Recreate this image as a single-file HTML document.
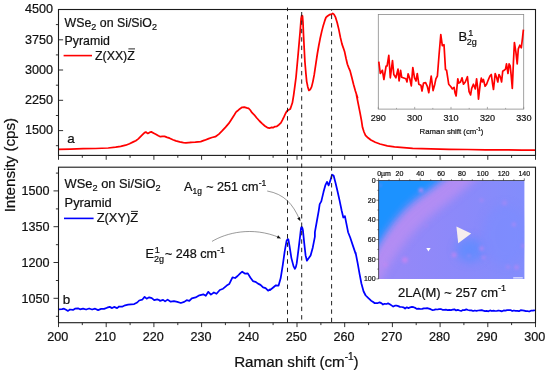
<!DOCTYPE html>
<html><head><meta charset="utf-8"><title>Raman spectra WSe2</title>
<style>
html,body{margin:0;padding:0;background:#fff;}
body{width:550px;height:374px;overflow:hidden;}
svg{display:block;font-family:"Liberation Sans",Arial,sans-serif;fill:#111;}
text{stroke:#111;stroke-width:0.22px;}
.ax{stroke:#1a1a1a;stroke-width:1.1;fill:none;}
.tk{stroke:#1a1a1a;stroke-width:0.9;fill:none;}
.dash{stroke:#222;stroke-width:1;fill:none;stroke-dasharray:4.4 4.02;}
.tl{font-size:12.6px;}
.lg{font-size:12.35px;}
.lgb{font-size:12.85px;}
.it{font-size:9.1px;fill:#222;}
.mt{font-size:7px;fill:#181818;}
</style></head><body>
<svg width="550" height="374" viewBox="0 0 550 374">
<defs>
<linearGradient id="base" gradientUnits="userSpaceOnUse" x1="400" y1="230" x2="525" y2="230">
<stop offset="0" stop-color="#9488f8"/>
<stop offset="0.5" stop-color="#8b89fa"/>
<stop offset="1" stop-color="#828dfc"/>
</linearGradient>
<filter id="b2" x="-20%" y="-20%" width="140%" height="140%"><feGaussianBlur stdDeviation="3.8"/></filter>
<filter id="b4" x="-30%" y="-30%" width="160%" height="160%"><feGaussianBlur stdDeviation="4.5"/></filter>
<filter id="b1" x="-50%" y="-50%" width="200%" height="200%"><feGaussianBlur stdDeviation="1.6"/></filter>
<filter id="b3" x="-50%" y="-50%" width="200%" height="200%"><feGaussianBlur stdDeviation="5"/></filter>
<clipPath id="mc"><rect x="378.6" y="180.5" width="145.8" height="98.4"/></clipPath>
<clipPath id="ca"><rect x="58.5" y="9.5" width="477" height="145.9"/></clipPath>
<clipPath id="cb"><rect x="58.5" y="167.2" width="477" height="155.3"/></clipPath>
</defs>
<rect width="550" height="374" fill="#fff"/>

<g clip-path="url(#ca)"><path d="M58.0,149.5 L70.5,149.2 L83.1,148.7 L95.6,148.5 L108.2,148.0 L115.7,147.2 L120.7,146.4 L125.7,145.2 L129.5,143.7 L133.3,141.9 L135.8,140.7 L138.3,138.9 L142.0,135.2 L144.6,132.6 L145.8,132.1 L147.8,133.4 L149.6,132.4 L151.3,131.9 L153.8,133.2 L155.8,134.2 L158.4,135.7 L160.4,136.7 L162.4,136.4 L164.6,136.4 L167.1,137.4 L169.6,138.2 L172.9,139.7 L175.9,140.9 L179.7,141.9 L183.4,142.7 L185.9,142.9 L188.5,142.7 L192.2,142.4 L190.0,142.4 L195.3,142.1 L200.7,141.6 L204.7,140.2 L208.7,138.6 L211.9,137.5 L215.4,136.7 L218.9,134.1 L222.1,130.9 L225.6,127.1 L228.8,123.4 L231.4,119.4 L234.1,115.3 L236.0,112.1 L237.6,110.8 L239.7,108.9 L242.1,107.3 L244.3,107.1 L246.7,107.9 L248.6,108.4 L250.2,110.0 L252.0,112.7 L254.2,114.8 L256.8,118.0 L259.5,121.0 L262.2,123.6 L264.9,126.0 L267.3,127.6 L269.4,128.2 L271.6,127.4 L273.4,127.6 L275.0,126.6 L276.9,126.3 L279.0,124.7 L280.9,122.8 L282.5,119.9 L284.1,116.7 L285.5,113.5 L286.8,111.3 L288.4,110.0 L290.3,108.9 L291.3,106.0 L292.4,102.8 L293.7,94.8 L294.8,86.7 L296.0,77.5 L298.2,53.5 L300.1,32.1 L301.1,18.7 L301.7,15.5 L302.5,16.0 L303.0,22.7 L303.5,34.8 L304.9,61.5 L305.9,73.5 L306.7,81.6 L307.8,86.9 L308.9,90.4 L310.2,89.6 L311.6,86.9 L312.9,81.6 L314.2,74.9 L315.8,64.2 L317.4,53.5 L318.8,45.5 L320.1,38.8 L321.7,31.6 L323.3,25.4 L324.7,20.9 L326.0,17.4 L327.6,16.0 L329.5,14.7 L331.1,14.4 L332.7,13.4 L334.0,14.4 L335.6,17.4 L337.2,22.7 L338.8,29.4 L340.4,37.4 L342.0,44.1 L343.4,48.1 L344.7,52.1 L346.0,58.3 L347.4,64.2 L348.7,67.6 L350.1,70.9 L351.7,77.0 L353.5,84.2 L355.4,90.9 L357.5,97.6 L356.4,94.5 L358.2,103.6 L360.0,112.7 L361.5,120.7 L362.5,127.3 L364.0,132.0 L365.5,135.3 L368.0,137.8 L370.9,140.0 L375.3,142.2 L380.0,144.0 L387.3,145.8 L394.5,146.9 L403.6,147.6 L412.7,148.4 L430.9,148.9 L449.1,149.3 L467.3,149.5 L485.5,149.8 L503.6,149.9 L521.8,150.1 L535.3,150.2" fill="none" stroke="#ff0000" stroke-width="1.75" stroke-linejoin="round" stroke-linecap="round"/></g>
<g clip-path="url(#cb)"><path d="M58.0,309.3 L62.0,309.1 L64.0,308.7 L66.0,309.7 L68.0,310.9 L70.0,309.5 L73.0,309.9 L75.0,308.7 L78.0,308.3 L80.0,309.3 L83.1,308.7 L86.1,309.5 L89.1,308.5 L92.1,309.5 L95.1,308.7 L98.1,310.1 L101.1,308.9 L104.1,308.9 L107.1,307.7 L109.7,306.9 L112.1,308.1 L114.1,306.9 L117.1,308.1 L119.1,306.5 L122.1,306.7 L125.1,305.3 L128.1,304.7 L131.1,304.3 L134.2,304.1 L137.2,302.5 L139.2,300.5 L142.2,299.7 L144.6,296.9 L146.6,298.7 L149.2,297.3 L151.8,298.1 L154.2,300.1 L157.2,299.3 L159.2,300.1 L160.0,300.9 L163.1,299.9 L165.1,301.4 L167.6,299.6 L170.7,301.7 L174.0,301.2 L177.3,301.9 L180.9,303.0 L184.2,301.9 L186.7,300.2 L189.3,300.9 L191.8,298.4 L195.6,297.4 L199.4,295.3 L203.3,294.3 L205.8,295.8 L208.3,291.8 L210.9,294.6 L213.9,292.5 L216.5,293.8 L219.8,290.0 L223.1,288.7 L226.7,285.6 L229.2,284.1 L232.5,277.3 L235.1,278.0 L237.6,276.0 L240.2,273.4 L242.2,271.7 L245.2,273.7 L247.8,273.4 L250.3,277.5 L252.9,281.1 L255.4,281.8 L258.0,283.6 L260.5,284.9 L263.1,287.4 L265.6,288.2 L268.1,290.7 L269.9,289.5 L270.0,290.2 L273.2,287.5 L275.9,285.3 L278.6,285.6 L280.7,278.1 L282.8,264.8 L284.7,251.4 L286.6,240.7 L287.6,239.1 L288.4,239.6 L289.5,246.0 L291.4,258.1 L293.5,266.1 L294.9,268.8 L295.9,266.9 L296.7,263.4 L298.6,248.7 L300.2,235.3 L301.0,228.2 L301.6,226.8 L302.4,227.9 L302.9,230.1 L304.2,242.9 L305.6,255.4 L306.9,260.7 L308.8,258.1 L310.6,255.4 L312.8,247.4 L314.9,236.7 L314.9,232.2 L316.8,221.5 L318.7,210.8 L319.7,204.1 L321.3,201.4 L323.5,192.1 L325.3,185.4 L327.0,181.9 L328.6,185.4 L330.2,180.9 L332.0,174.7 L333.6,175.5 L335.5,182.7 L337.4,190.7 L339.5,200.1 L341.7,210.8 L343.3,217.5 L344.9,216.1 L346.5,224.2 L348.1,232.2 L350.2,237.5 L352.9,245.6 L355.6,253.6 L355.6,252.7 L357.7,263.4 L359.6,274.1 L361.4,283.5 L363.6,291.5 L365.7,295.5 L368.4,298.2 L371.1,300.7 L372.8,301.7 L374.5,303.0 L376.2,303.0 L377.9,303.0 L379.6,302.4 L381.3,303.1 L383.0,304.5 L384.7,303.8 L386.4,304.0 L388.1,303.4 L389.8,304.2 L391.5,305.4 L393.2,306.6 L394.9,305.7 L396.6,305.7 L398.3,306.1 L400.0,306.9 L401.7,307.0 L403.4,307.3 L405.1,308.5 L406.8,307.3 L408.5,308.1 L410.2,307.3 L411.9,306.9 L413.6,307.2 L415.3,307.9 L417.0,308.9 L418.7,308.6 L420.4,309.0 L422.1,308.9 L423.8,308.4 L425.5,308.4 L427.2,308.2 L428.9,308.6 L430.6,309.2 L432.3,310.1 L434.0,309.8 L435.7,309.4 L437.4,309.5 L439.1,309.1 L440.8,309.0 L442.5,309.8 L444.2,309.9 L445.9,309.7 L447.6,310.1 L449.3,309.8 L451.0,310.1 L452.7,309.7 L454.4,309.3 L456.1,310.4 L457.8,309.8 L459.5,310.5 L461.2,310.9 L462.9,310.0 L464.6,310.1 L466.3,309.4 L468.0,310.0 L469.7,310.3 L471.4,310.4 L473.1,311.0 L474.8,310.5 L476.5,310.8 L478.2,310.5 L479.9,310.3 L481.6,310.1 L483.3,310.7 L485.0,311.1 L486.7,310.9 L488.4,311.3 L490.1,310.4 L491.8,311.0 L493.5,310.7 L495.2,311.0 L496.9,310.9 L498.6,310.5 L500.3,310.8 L502.0,311.3 L503.7,310.4 L505.4,310.7 L507.1,310.2 L508.8,310.0 L510.5,310.1 L512.2,311.0 L513.9,310.5 L515.6,310.8 L517.3,310.8 L519.0,311.2 L520.7,310.2 L522.4,310.4 L524.1,310.6 L525.8,311.1 L527.5,311.2 L529.2,311.5 L530.9,310.7 L532.6,310.7 L534.3,310.4" fill="none" stroke="#0000ff" stroke-width="1.75" stroke-linejoin="round" stroke-linecap="round"/></g>
<path class="dash" d="M287.5,7.6 V322.7" stroke-dashoffset="0.9"/>
<path class="dash" d="M301.7,12 V320"/>
<path class="dash" d="M331.6,9 V322.7" stroke-dashoffset="2.74"/>
<rect class="ax" x="58.5" y="9.5" width="477.0" height="145.9"/>
<rect class="ax" x="58.5" y="167.2" width="477.0" height="155.5"/>
<path class="tk" d="M58.5,155.4v4.4M58.5,322.7v4.4M82.3,155.4v2.4M82.3,322.7v2.4M106.2,155.4v4.4M106.2,322.7v4.4M130.1,155.4v2.4M130.1,322.7v2.4M153.9,155.4v4.4M153.9,322.7v4.4M177.8,155.4v2.4M177.8,322.7v2.4M201.6,155.4v4.4M201.6,322.7v4.4M225.4,155.4v2.4M225.4,322.7v2.4M249.3,155.4v4.4M249.3,322.7v4.4M273.1,155.4v2.4M273.1,322.7v2.4M297.0,155.4v4.4M297.0,322.7v4.4M320.9,155.4v2.4M320.9,322.7v2.4M344.7,155.4v4.4M344.7,322.7v4.4M368.6,155.4v2.4M368.6,322.7v2.4M392.4,155.4v4.4M392.4,322.7v4.4M416.2,155.4v2.4M416.2,322.7v2.4M440.1,155.4v4.4M440.1,322.7v4.4M463.9,155.4v2.4M463.9,322.7v2.4M487.8,155.4v4.4M487.8,322.7v4.4M511.6,155.4v2.4M511.6,322.7v2.4M535.5,155.4v4.4M535.5,322.7v4.4"/>
<path class="tk" d="M58.5,24.6h-2.6M58.5,39.8h4.6M58.5,54.9h-2.6M58.5,70.0h4.6M58.5,85.2h-2.6M58.5,100.3h4.6M58.5,115.5h-2.6M58.5,130.6h4.6M58.5,145.7h-2.6"/>
<path class="tk" d="M58.5,190.9h-5M58.5,226.7h-5M58.5,262.5h-5M58.5,298.3h-5M58.5,173.1h-2.6M58.5,208.9h-2.6M58.5,244.7h-2.6M58.5,280.5h-2.6M58.5,316.3h-2.6"/>
<text class="tl" x="53" y="13.2" text-anchor="end">4500</text>
<text class="tl" x="53" y="43.5" text-anchor="end">3750</text>
<text class="tl" x="53" y="73.8" text-anchor="end">3000</text>
<text class="tl" x="53" y="104.0" text-anchor="end">2250</text>
<text class="tl" x="53" y="134.3" text-anchor="end">1500</text>
<text class="tl" x="49.6" y="195.1" text-anchor="end">1500</text>
<text class="tl" x="49.6" y="230.9" text-anchor="end">1350</text>
<text class="tl" x="49.6" y="266.7" text-anchor="end">1200</text>
<text class="tl" x="49.6" y="302.5" text-anchor="end">1050</text>
<text class="tl" x="57.8" y="341.4" text-anchor="middle">200</text>
<text class="tl" x="105.5" y="341.4" text-anchor="middle">210</text>
<text class="tl" x="153.2" y="341.4" text-anchor="middle">220</text>
<text class="tl" x="200.9" y="341.4" text-anchor="middle">230</text>
<text class="tl" x="248.6" y="341.4" text-anchor="middle">240</text>
<text class="tl" x="296.3" y="341.4" text-anchor="middle">250</text>
<text class="tl" x="344.0" y="341.4" text-anchor="middle">260</text>
<text class="tl" x="391.7" y="341.4" text-anchor="middle">270</text>
<text class="tl" x="439.4" y="341.4" text-anchor="middle">280</text>
<text class="tl" x="487.1" y="341.4" text-anchor="middle">290</text>
<text class="tl" x="534.8" y="341.4" text-anchor="middle">300</text>
<text x="296.4" y="366.7" text-anchor="middle" font-size="15.2px">Raman shift (cm<tspan font-size="10px" dy="-6.3">-1</tspan><tspan dy="6.3">)</tspan></text>
<text transform="translate(15.3,165.1) rotate(-90)" text-anchor="middle" font-size="15.2px">Intensity (cps)</text>
<text class="lg" x="64.6" y="26.8">WSe<tspan font-size="9px" dy="2.8">2</tspan><tspan dy="-2.8"> on Si/SiO</tspan><tspan font-size="9px" dy="2.8">2</tspan></text>
<text class="lg" x="64.6" y="45.0">Pyramid</text>
<path d="M63.6,55.6H92" stroke="#ff0000" stroke-width="1.6" fill="none"/>
<text class="lg" x="95" y="59.7">Z(XX)Z</text>
<path d="M128.4,48.9H135" stroke="#111" stroke-width="0.9" fill="none"/>
<text x="67.2" y="143.4" font-size="13.4px">a</text>
<text class="lgb" x="64.6" y="188">WSe<tspan font-size="9.2px" dy="2.8">2</tspan><tspan dy="-2.8"> on Si/SiO</tspan><tspan font-size="9.2px" dy="2.8">2</tspan></text>
<text class="lgb" x="64.6" y="206.8">Pyramid</text>
<path d="M64,218.4H93.6" stroke="#0000ff" stroke-width="1.6" fill="none"/>
<text class="lgb" x="96.7" y="222.4">Z(XY)Z</text>
<path d="M131,211.4H138" stroke="#111" stroke-width="0.9" fill="none"/>
<text x="62.8" y="304.0" font-size="13.4px">b</text>
<text x="184.1" y="190.9" font-size="12.6px">A<tspan font-size="8.4px" dy="2.7">1g</tspan><tspan dy="-2.7" dx="0.9"> ~ 251 cm</tspan><tspan font-size="8.6px" dy="-5.4" dx="0.3">-1</tspan></text>
<text x="145.5" y="258" font-size="12.6px">E<tspan font-size="9px" dy="4.4">2g</tspan><tspan dy="-4.4" dx="1">~ 248 cm</tspan><tspan font-size="9px" dy="-5.4">-1</tspan></text>
<text x="154.8" y="252.8" font-size="9px">1</text>
<text x="398.0" y="297" font-size="13px">2LA(M) ~ 257 cm<tspan font-size="9px" dy="-5.6">-1</tspan></text>
<path d="M212,241.4 C226,233 252,226 279.5,237.6" stroke="#555" stroke-width="0.6" fill="none"/>
<path d="M281,238.4 l-4.2,-0.2 l1.3,-2.9 z" fill="#111"/>
<path d="M267.2,191 C284,194 293,204 299.6,219.6" stroke="#555" stroke-width="0.6" fill="none"/>
<path d="M300.4,221.2 l-3.2,-2.8 l2.8,-1.3 z" fill="#111"/>
<rect x="378.3" y="14.5" width="145.4" height="94.6" fill="#fff" stroke="#8a8a8a" stroke-width="0.8"/>
<path d="M378.8,61.7 L380.3,73.5 L382.4,70.3 L383.9,79.5 L386.1,66.0 L387.1,66.0 L388.8,55.3 L390.3,77.8 L392.5,60.6 L393.8,74.5 L395.9,77.8 L398.0,69.2 L399.1,81.0 L400.6,70.3 L401.7,77.3 L405.9,78.8 L407.0,82.0 L408.1,73.9 L409.8,78.8 L411.3,85.9 L412.8,67.5 L414.5,77.8 L416.0,81.0 L417.3,73.5 L418.8,84.2 L420.9,85.2 L422.0,91.0 L423.5,83.1 L425.6,82.7 L427.3,86.3 L428.8,92.7 L431.2,76.0 L433.1,90.6 L434.8,84.2 L435.9,78.8 L437.4,76.0 L439.1,54.2 L440.8,34.5 L442.3,45.7 L444.0,44.6 L445.5,69.6 L446.6,70.3 L448.7,84.2 L450.9,86.7 L452.4,88.9 L454.1,87.4 L455.0,92.7 L456.1,95.9 L457.8,78.8 L458.8,83.1 L460.5,82.0 L462.0,77.8 L463.5,84.2 L465.3,82.0 L467.4,76.7 L469.1,91.7 L470.6,94.9 L471.7,88.4 L473.4,84.2 L475.3,88.9 L476.6,78.8 L477.7,88.0 L478.5,99.1 L480.2,84.2 L481.3,78.2 L482.4,82.0 L483.4,79.5 L485.1,86.3 L486.6,84.2 L488.1,80.3 L489.9,76.0 L491.3,74.5 L492.6,84.2 L493.5,89.5 L495.2,73.5 L496.7,77.8 L497.8,82.0 L499.0,74.5 L500.5,77.3 L501.6,82.0 L502.7,71.3 L504.2,70.3 L505.5,69.2 L506.5,63.9 L508.0,73.5 L509.1,63.9 L510.2,66.0 L511.2,75.6 L512.3,88.4 L513.4,62.8 L514.4,42.5 L515.9,52.1 L517.2,63.9 L518.3,48.9 L519.8,45.2 L521.3,47.8 L522.6,37.1 L523.4,29.6" fill="none" stroke="#ff0000" stroke-width="1.7" stroke-linejoin="round"/>
<path d="M378.3,109.1v-2.2M396.5,109.1v-1.2M414.7,109.1v-2.2M432.8,109.1v-1.2M451.0,109.1v-2.2M469.2,109.1v-1.2M487.4,109.1v-2.2M505.6,109.1v-1.2M523.7,109.1v-2.2" stroke="#8a8a8a" stroke-width="0.7" fill="none"/>
<text class="it" x="378.3" y="121.3" text-anchor="middle">290</text>
<text class="it" x="414.7" y="121.3" text-anchor="middle">300</text>
<text class="it" x="451.1" y="121.3" text-anchor="middle">310</text>
<text class="it" x="487.5" y="121.3" text-anchor="middle">320</text>
<text class="it" x="523.9" y="121.3" text-anchor="middle">330</text>
<text x="451.5" y="134.2" text-anchor="middle" font-size="7.8px" fill="#222">Raman shift (cm<tspan font-size="5px" dy="-2.8">-1</tspan><tspan dy="2.8">)</tspan></text>
<text x="458.6" y="41" font-size="13px">B<tspan font-size="9px" dy="4.2" dx="-0.6">2g</tspan></text>
<text x="468.2" y="36" font-size="9px">1</text>
<g clip-path="url(#mc)">
<rect x="378" y="180" width="147" height="100" fill="url(#base)"/>
<path d="M364,290 C380,256 402,224 430,203 C446,191 462,178 476,164" fill="none" stroke="#ba8ef2" stroke-width="21" opacity="0.82" filter="url(#b4)"/>
<path d="M360,160 H465 C449,174 434,186 420,195.5 C405,206 392,221 379,243 C373,253 367,265 361,277 Z" fill="#1e92ff" filter="url(#b2)"/>
<ellipse cx="470" cy="250" rx="14" ry="12" fill="#5a8cff" opacity="0.75" filter="url(#b3)"/>
<ellipse cx="505" cy="235" rx="22" ry="30" fill="#7a8cff" opacity="0.6" filter="url(#b3)"/>
<circle cx="404.9" cy="260" r="3" fill="#d884ee" opacity="0.6" filter="url(#b1)"/>
<circle cx="454.2" cy="254.8" r="2.6" fill="#d884ee" opacity="0.55" filter="url(#b1)"/>
<circle cx="481.6" cy="248.6" r="2.3" fill="#d884ee" opacity="0.55" filter="url(#b1)"/>
<circle cx="483.5" cy="257.5" r="2" fill="#d884ee" opacity="0.45" filter="url(#b1)"/>
<circle cx="513.9" cy="224.4" r="2" fill="#d884ee" opacity="0.45" filter="url(#b1)"/>
<circle cx="469" cy="255.7" r="1.6" fill="#d884ee" opacity="0.35" filter="url(#b1)"/>
<circle cx="516.6" cy="267.4" r="2.4" fill="#d884ee" opacity="0.45" filter="url(#b1)"/>
<circle cx="508" cy="267" r="2" fill="#d884ee" opacity="0.35" filter="url(#b1)"/>
<circle cx="421" cy="190.2" r="2.2" fill="#d884ee" opacity="0.85" filter="url(#b1)"/>
<circle cx="385.5" cy="264.8" r="2.4" fill="#d884ee" opacity="0.3" filter="url(#b1)"/>
<circle cx="380.3" cy="185.4" r="1.1" fill="#d884ee" opacity="0.6" filter="url(#b1)"/>
<circle cx="504.5" cy="203" r="2.5" fill="#d884ee" opacity="0.3" filter="url(#b1)"/>
<circle cx="481.6" cy="200.2" r="2" fill="#d884ee" opacity="0.3" filter="url(#b1)"/>
<circle cx="426.4" cy="225.7" r="1.2" fill="#d884ee" opacity="0.3" filter="url(#b1)"/>
<circle cx="523" cy="246" r="2" fill="#d884ee" opacity="0.4" filter="url(#b1)"/>
<path d="M456.4,226.6 L471.2,233.5 L458.2,243.3 Z" fill="#f6eeee"/>
<path d="M426.3,248 L430.6,248 L428.4,251.4 Z" fill="#fff"/>
<rect x="513.2" y="277.4" width="9.6" height="1.0" fill="#fff"/>
</g>
<path d="M378.6,279V180.5H524.4" stroke="#222" stroke-width="0.7" fill="none"/>
<path d="M378.6,180.5v-2.2M389.0,180.5v-1.2M399.4,180.5v-2.2M409.8,180.5v-1.2M420.2,180.5v-2.2M430.7,180.5v-1.2M441.1,180.5v-2.2M451.5,180.5v-1.2M461.9,180.5v-2.2M472.3,180.5v-1.2M482.7,180.5v-2.2M493.1,180.5v-1.2M503.5,180.5v-2.2M513.9,180.5v-1.2M524.3,180.5v-2.2M378.6,180.5h-2.2M378.6,190.3h-1.2M378.6,200.2h-2.2M378.6,210.0h-1.2M378.6,219.9h-2.2M378.6,229.7h-1.2M378.6,239.5h-2.2M378.6,249.4h-1.2M378.6,259.2h-2.2M378.6,269.1h-1.2M378.6,278.9h-2.2" stroke="#222" stroke-width="0.6" fill="none"/>
<text class="mt" x="377.2" y="176">0µm</text>
<text class="mt" x="399.4" y="176" text-anchor="middle">20</text>
<text class="mt" x="420.2" y="176" text-anchor="middle">40</text>
<text class="mt" x="441.1" y="176" text-anchor="middle">60</text>
<text class="mt" x="461.9" y="176" text-anchor="middle">80</text>
<text class="mt" x="482.7" y="176" text-anchor="middle">100</text>
<text class="mt" x="503.5" y="176" text-anchor="middle">120</text>
<text class="mt" x="524.3" y="176" text-anchor="middle">140</text>
<text class="mt" x="375.6" y="182.9" text-anchor="end">0</text>
<text class="mt" x="375.6" y="202.6" text-anchor="end">20</text>
<text class="mt" x="375.6" y="222.3" text-anchor="end">40</text>
<text class="mt" x="375.6" y="241.9" text-anchor="end">60</text>
<text class="mt" x="375.6" y="261.6" text-anchor="end">80</text>
<text class="mt" x="375.6" y="281.3" text-anchor="end">100</text>
</svg></body></html>
